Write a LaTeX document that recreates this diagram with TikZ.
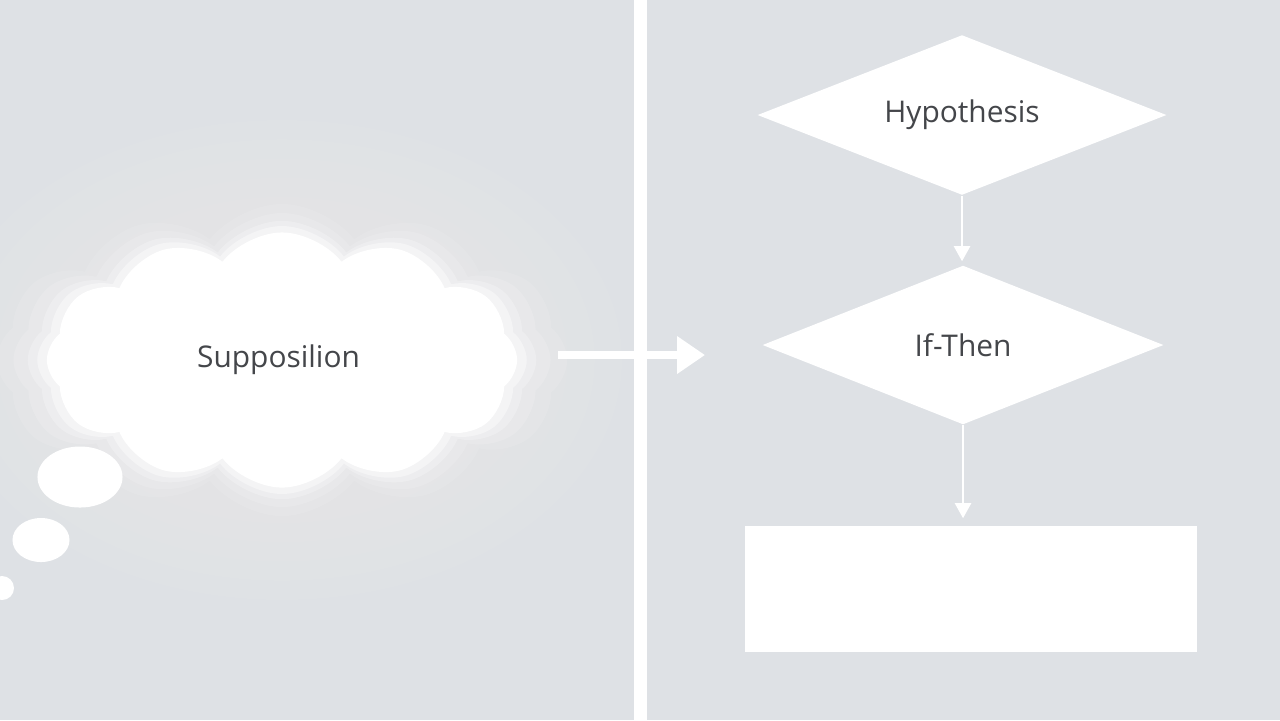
\documentclass[tikz,border=0pt]{standalone}
\usepackage{fontspec}
\setmainfont{Open Sans}
\usetikzlibrary{arrows.meta, positioning, shapes.geometric, shapes.symbols}

\definecolor{bggray}{RGB}{222,225,229}
\definecolor{labelgray}{RGB}{68,70,74}

\begin{document}
\begin{tikzpicture}[
    x=0.01cm, y=-0.01cm,
    every node/.style={font=\fontsize{8.5}{10}\selectfont, text=labelgray},
    decision/.style={diamond, aspect=2.5, fill=white, inner sep=0pt, minimum width=4.09cm, minimum height=1.6cm},
    process/.style={rectangle, fill=white, minimum width=4.52cm, minimum height=1.26cm},
    thought/.style={cloud, cloud puffs=12, cloud puff arc=105, aspect=1.8, fill=white, inner sep=0pt},
    bubble/.style={ellipse, fill=white, inner sep=0pt},
    bigarrow/.style={-{Triangle[length=0.28cm, width=0.36cm]}, white, line width=0.08cm},
    arrow/.style={-{Triangle[length=0.15cm, width=0.16cm]}, white, line width=0.6pt}
]

% Background and divider
\fill[bggray] (0,0) rectangle (1280,720);
\useasboundingbox (0,0) rectangle (1280,720);
\foreach \r in {1.0, 0.92, ..., 0.6}
    \fill[white, opacity=0.035] (282,360) ellipse ({\r*340} and {\r*240});
\draw[white, line width=0.13cm] (640,0) -- (640,720);

% Left side - thought cloud with glow
\foreach \s/\o in {1.2/0.1, 1.13/0.15, 1.07/0.25, 1.03/0.4}
    \node[thought, opacity=\o, minimum width=\s*4.75cm, minimum height=\s*2.6cm] at (282,360) {};
\node[thought, minimum width=4.7cm, minimum height=2.55cm] (suppos) at (282,360) {};
\node at ([xshift=-1pt]suppos.center) {Supposilion};
\node[bubble, minimum width=0.85cm, minimum height=0.61cm] (bub1) at (80,477) {};
\node[bubble, minimum width=0.57cm, minimum height=0.44cm] (bub2) at (41,540) {};
\node[bubble, minimum width=0.24cm, minimum height=0.24cm] (bub3) at (2,588) {};

% Right side - flow
\node[decision] (hypo) at (962,115) {Hypothesis};
\node[decision, minimum width=4.01cm, minimum height=1.59cm] (ifthen) at (963,345) {If-Then};
\node[process] (result) at (971,589) {};

% Arrows
\coordinate (arrstart) at (558,355);
\coordinate (arrend) at (705,355);
\draw[bigarrow] (arrstart) -- (arrend);
\draw[arrow] (hypo.south) -- ([yshift=1pt]hypo.south |- ifthen.north);
\draw[arrow] (ifthen.south) -- ([yshift=2pt]ifthen.south |- result.north);

\end{tikzpicture}
\end{document}
